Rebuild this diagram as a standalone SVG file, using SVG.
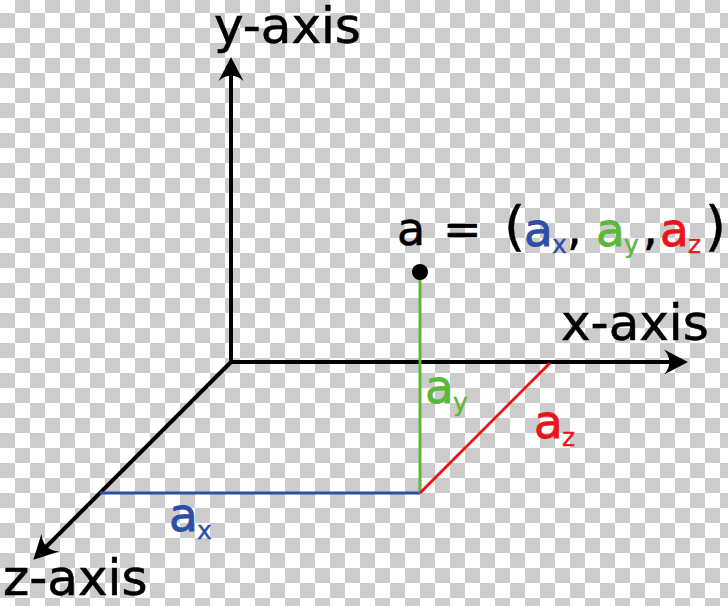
<svg xmlns="http://www.w3.org/2000/svg" width="728" height="606" viewBox="0 0 728 606">
<defs>
<pattern id="chk" x="0" y="-2" width="30" height="30" patternUnits="userSpaceOnUse">
<rect width="30" height="30" fill="#ffffff"/>
<rect x="15" y="0" width="15" height="15" fill="#cccccc"/>
<rect x="0" y="15" width="15" height="15" fill="#cccccc"/>
</pattern>
<marker id="arr" viewBox="-27 -14 31 28" markerWidth="31" markerHeight="28" refX="-8" refY="0" markerUnits="userSpaceOnUse" orient="auto">
<path d="M0,0 L-24,-12.5 C-17,-5 -17,5 -24,12.5 Z" fill="#000"/>
</marker>
<style>
.t{font-family:"DejaVu Sans","Liberation Sans",sans-serif;}
.big{font-size:50px;fill:#000;stroke:#000;stroke-width:0.6;}
.lab{font-size:46px;stroke:#000;stroke-width:0.6;}
.ca{font-size:47px;stroke-width:0.9;}
.par{font-size:54px;stroke:#000;stroke-width:0.5;}
.sub{font-size:25px;}
.axis{stroke:#000;stroke-width:4;fill:none;}
.comp{stroke-width:3;fill:none;}
.blue{fill:#2c4fa5;stroke:#2c4fa5;}
.green{fill:#5cb83c;stroke:#5cb83c;}
.red{fill:#e8161b;stroke:#e8161b;}
.sub.blue,.sub.green,.sub.red{stroke-width:0.4;}
</style>
</defs>
<rect width="728" height="606" fill="url(#chk)"/>
<g id="connectors">
<line class="axis" x1="231" y1="364" x2="231" y2="65" marker-end="url(#arr)"/>
<line class="axis" x1="229" y1="362" x2="680" y2="362" marker-end="url(#arr)"/>
<line class="axis" x1="231" y1="362" x2="39" y2="554" marker-end="url(#arr)"/>
<line class="comp" stroke="#2c4fa5" x1="100" y1="493" x2="420" y2="493"/>
<line class="comp" stroke="#5cb83c" x1="420" y1="493" x2="420" y2="272"/>
<line class="comp" stroke="#e8161b" x1="420" y1="493" x2="550" y2="363"/>
</g>
<g id="point">
<circle cx="420" cy="272" r="8" fill="#000"/>
</g>
<g id="y-axis-label"><text class="t big" x="214" y="43">y-axis</text></g>
<g id="x-axis-label"><text class="t big" x="561" y="340">x-axis</text></g>
<g id="z-axis-label"><text class="t big" x="3" y="595">z-axis</text></g>
<g id="formula">
<text class="t lab" x="397" y="245" fill="#000">a</text>
<text class="t lab" x="443" y="245" fill="#000">=</text>
<text class="t par" x="504" y="245" fill="#000">(</text>
<text class="t ca blue" x="524" y="246">a</text>
<text class="t sub blue" x="552" y="253">x</text>
<text class="t lab" x="567" y="245" fill="#000">,</text>
<text class="t ca green" x="596" y="246">a</text>
<text class="t sub green" x="624" y="253">y</text>
<text class="t lab" x="643" y="245" fill="#000">,</text>
<text class="t ca red" x="660" y="246">a</text>
<text class="t sub red" x="688" y="253">z</text>
<text class="t par" x="705" y="245" fill="#000">)</text>
</g>
<g id="label-ay">
<text class="t ca green" x="425" y="403">a</text>
<text class="t sub green" x="453" y="411">y</text>
</g>
<g id="label-az">
<text class="t ca red" x="534" y="438">a</text>
<text class="t sub red" x="562" y="446">z</text>
</g>
<g id="label-ax">
<text class="t ca blue" x="169" y="531">a</text>
<text class="t sub blue" x="197" y="539">x</text>
</g>
</svg>
